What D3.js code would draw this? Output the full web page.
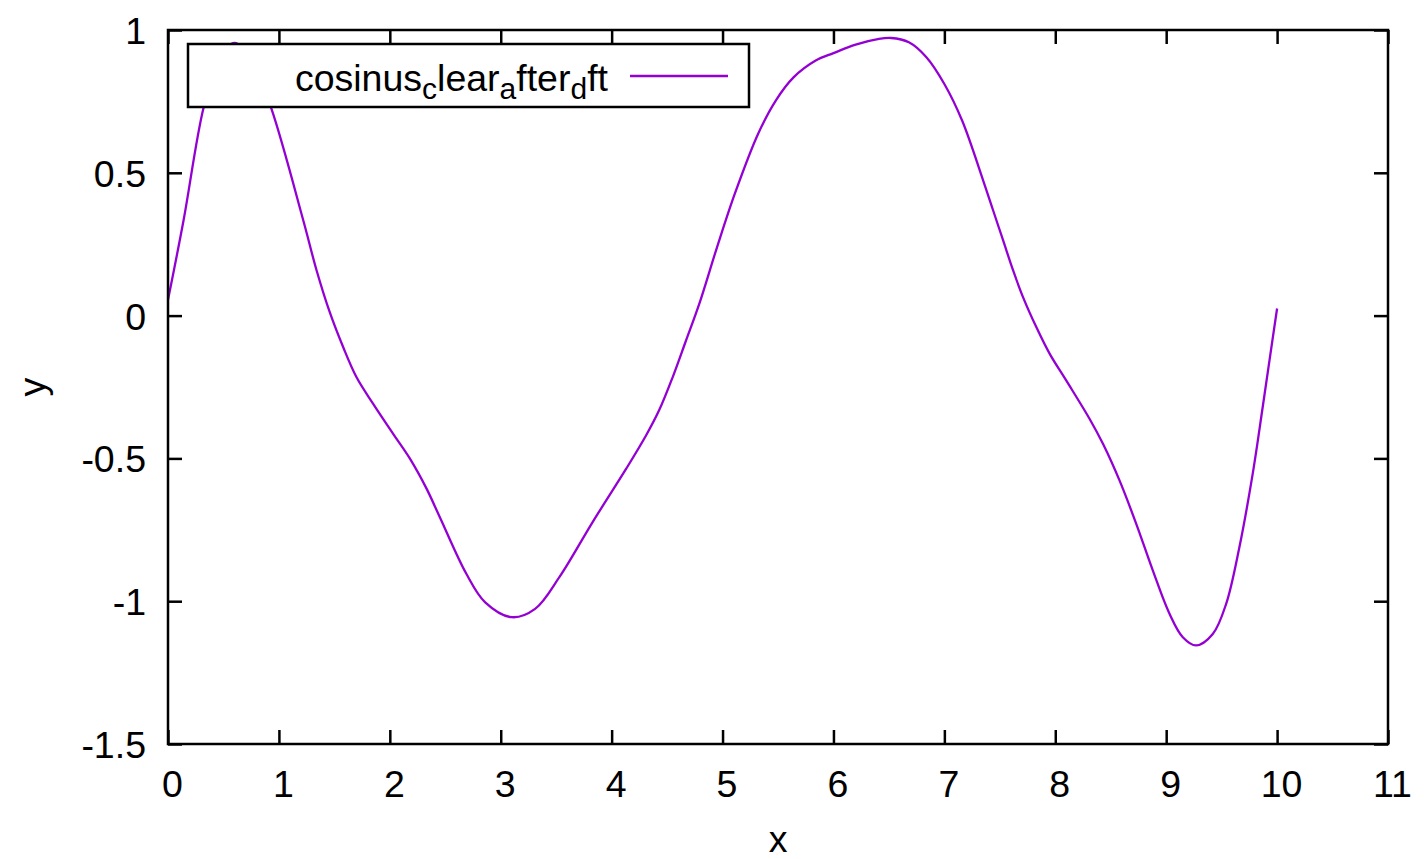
<!DOCTYPE html>
<html>
<head>
<meta charset="utf-8">
<script src="https://cdn.jsdelivr.net/npm/d3@7"></script>
<style>
  body { margin: 0; background: #fff; }
  svg { font-family: "Liberation Sans", Arial, sans-serif; }
</style>
</head>
<body>
<svg id="chart" width="1424" height="859"></svg>
<script>
// values
const xValues = [0.00, 0.14, 0.32, 0.46, 0.60, 0.75, 0.93, 1.22, 1.34, 1.46, 1.58, 1.70,
  1.85, 2.03, 2.18, 2.33, 2.45, 2.69, 2.86, 3.10, 3.31, 3.53, 3.83, 4.13, 4.31,
  4.43, 4.55, 4.67, 4.79, 4.95, 5.11, 5.32, 5.48, 5.64, 5.84, 6.00, 6.20, 6.40, 6.52,
  6.68, 6.84, 7.00, 7.16, 7.35, 7.44, 7.53, 7.62, 7.71, 7.83, 7.95, 8.10, 8.31, 8.43,
  8.58, 8.73, 8.88, 9.03, 9.15, 9.27, 9.42, 9.54, 9.66, 9.78, 9.87, 9.94, 10.00];
const yValues = [0.055, 0.333, 0.727, 0.90, 0.955, 0.90, 0.727, 0.333, 0.158, 0.01, -0.111, -0.216,
  -0.309, -0.414, -0.50, -0.605, -0.705, -0.904, -1.004, -1.056, -1.027, -0.915, -0.722, -0.537, -0.42,
  -0.33, -0.216, -0.088, 0.041, 0.239, 0.426, 0.636, 0.753, 0.834, 0.893, 0.919, 0.949, 0.968, 0.972,
  0.957, 0.904, 0.811, 0.683, 0.473, 0.368, 0.263, 0.158, 0.064, -0.041, -0.134, -0.228, -0.362, -0.449,
  -0.578, -0.729, -0.893, -1.044, -1.126, -1.155, -1.115, -1.01, -0.811, -0.554, -0.321, -0.134, 0.025];
const xTicks = [0, 1, 2, 3, 4, 5, 6, 7, 8, 9, 10, 11];
const yTicks = [-1.5, -1, -0.5, 0, 0.5, 1];
// legend label, gnuplot enhanced text: underscores became subscripts
const legendParts = [
  { text: "cosinus", sub: false },
  { text: "c", sub: true },
  { text: "lear", sub: false },
  { text: "a", sub: true },
  { text: "fter", sub: false },
  { text: "d", sub: true },
  { text: "ft", sub: false }
];

const width = 1424, height = 859;
const margin = { top: 30, right: 36, bottom: 115, left: 168 };
const innerWidth = width - margin.left - margin.right;
const innerHeight = height - margin.top - margin.bottom;
const lineColor = "#9400d3";
const fontSize = 37.5;
const tickLen = 14;

const svg = d3.select("#chart");
const g = svg.append("g").attr("transform", `translate(${margin.left},${margin.top})`);

const x = d3.scaleLinear().domain([0, 11]).range([0, innerWidth]);
const y = d3.scaleLinear().domain([-1.5, 1]).range([innerHeight, 0]);

// axes, ticks pointing inwards like gnuplot
const styleAxis = (sel) => {
  sel.select(".domain").remove();
  sel.selectAll(".tick line").attr("stroke", "#000").attr("stroke-width", 2.5);
  sel.selectAll("text").attr("fill", "#000").style("font-size", fontSize + "px");
};

g.append("g")
  .attr("transform", `translate(0,${innerHeight})`)
  .call(d3.axisBottom(x).tickValues(xTicks).tickSize(-tickLen).tickFormat((d) => String(d)))
  .call(styleAxis)
  .selectAll("text")
  .attr("y", 53)
  .attr("dy", 0)
  .attr("dx", 4);

// mirrored ticks on top and right, no labels
const topAxis = g.append("g")
  .call(d3.axisTop(x).tickValues(xTicks).tickSize(-tickLen))
  .call(styleAxis);
topAxis.selectAll("text").remove();

g.append("g")
  .call(d3.axisLeft(y).tickValues(yTicks).tickSize(-tickLen).tickFormat((d) => String(d)))
  .call(styleAxis)
  .selectAll("text")
  .attr("x", -22)
  .attr("dy", "0.36em");

const rightAxis = g.append("g")
  .attr("transform", `translate(${innerWidth},0)`)
  .call(d3.axisRight(y).tickValues(yTicks).tickSize(-tickLen))
  .call(styleAxis);
rightAxis.selectAll("text").remove();

// curve
const points = xValues.map((v, i) => [v, yValues[i]]);
const line = d3.line()
  .x((d) => x(d[0]))
  .y((d) => y(d[1]))
  .curve(d3.curveCatmullRom.alpha(0.5));

g.append("path")
  .datum(points)
  .attr("fill", "none")
  .attr("stroke", lineColor)
  .attr("stroke-width", 2.3)
  .attr("d", line);

// frame
g.append("rect")
  .attr("width", innerWidth)
  .attr("height", innerHeight)
  .attr("fill", "none")
  .attr("stroke", "#000")
  .attr("stroke-width", 2.5);

// axis titles
svg.append("text")
  .attr("x", margin.left + x(5.5))
  .attr("y", 852)
  .attr("text-anchor", "middle")
  .style("font-size", fontSize + "px")
  .text("x");

svg.append("text")
  .attr("transform", "translate(45,387) rotate(-90)")
  .attr("text-anchor", "middle")
  .style("font-size", fontSize + "px")
  .text("y");

// legend box (opaque, covers the curve)
const legend = svg.append("g");
legend.append("rect")
  .attr("x", 188)
  .attr("y", 44)
  .attr("width", 561)
  .attr("height", 63)
  .attr("fill", "#fff")
  .attr("stroke", "#000")
  .attr("stroke-width", 2.5);

const label = legend.append("text")
  .attr("x", 608)
  .attr("y", 91)
  .attr("text-anchor", "end")
  .style("font-size", fontSize + "px");

legendParts.forEach((p, i) => {
  const prev = i > 0 ? legendParts[i - 1] : null;
  let dy = 0;
  if (p.sub) dy = 8;
  else if (prev && prev.sub) dy = -8;
  label.append("tspan")
    .attr("dy", dy)
    .style("font-size", (p.sub ? fontSize * 0.8 : fontSize) + "px")
    .text(p.text);
});

legend.append("line")
  .attr("x1", 630)
  .attr("x2", 728)
  .attr("y1", 76)
  .attr("y2", 76)
  .attr("stroke", lineColor)
  .attr("stroke-width", 2.3);
</script>
</body>
</html>
